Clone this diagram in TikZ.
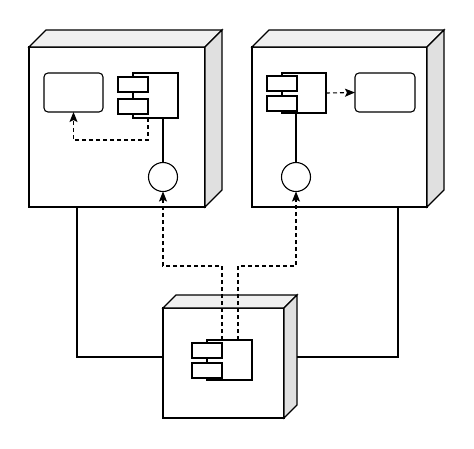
\documentclass[tikz,border=0pt]{standalone}
\usepackage{tikz}
\usetikzlibrary{calc,positioning,arrows.meta}

\tikzset{
  noeud/.style={draw,fill=white,outer sep=0pt,inner sep=0pt},
  comp/.style={noeud,minimum width=#1},
  onglet/.style={noeud,minimum width=30pt,minimum height=15pt},
  stockage/.style={noeud,rounded corners=4pt},
  port/.style={noeud,circle,minimum size=29pt},
  dep/.style={dash pattern=on 4pt off 3pt},
  dessus/.style={fill=black!6},
  cote/.style={fill=black!12}
}

\begin{document}
\begin{tikzpicture}[x=1pt,y=-1pt,line width=1.1pt,>={Stealth[length=10pt,width=8pt,inset=2pt]}]

	\useasboundingbox (0,0) rectangle (474,448);

	%Noeuds
    \node[noeud,minimum width=176pt,minimum height=160pt] (gauche) at (117,127) {};
    \node[noeud,minimum width=175pt,minimum height=160pt] (droite) at (339.5,127) {};
    \node[noeud,minimum width=121pt,minimum height=110pt] (bas) at (223.5,363) {};

    %Faces 3D
    \foreach \n/\d in {gauche/17,droite/17,bas/13} {
      \draw[dessus] (\n.north west) -- ++(\d,-\d) -- ($(\n.north east)+(\d,-\d)$) -- (\n.north east) -- cycle;
      \draw[cote] (\n.north east) -- ++(\d,-\d) -- ($(\n.south east)+(\d,-\d)$) -- (\n.south east) -- cycle;
    }

    %Noeud gauche
    \node[stockage,minimum width=59pt,minimum height=39pt] (gstock) at (73.5,92.5) {};
    \node[comp=45pt,minimum height=45pt] (gcomp) at (155.5,95.5) {};
    \node[onglet] (gcomp1) at (gcomp.west |- 0,84.5) {};
    \node[onglet] (gcomp2) at (gcomp.west |- 0,106.5) {};
    \node[port] (gport) at (163,177) {};

    %Noeud droite
    \node[comp=44pt,minimum height=40pt] (dcomp) at (304,93) {};
    \node[onglet] (dcomp1) at (dcomp.west |- 0,83.5) {};
    \node[onglet] (dcomp2) at (dcomp.west |- 0,103.5) {};
    \node[stockage,minimum width=60pt,minimum height=39pt] (dstock) at (385,92.5) {};
    \node[port] (dport) at (296,177) {};

    %Noeud bas
    \node[comp=45pt,minimum height=40pt] (bcomp) at (229.5,360) {};
    \node[onglet] (bcomp1) at (bcomp.west |- 0,350.5) {};
    \node[onglet] (bcomp2) at (bcomp.west |- 0,370.5) {};

    %Liens
    \draw[dep,->] ($(gcomp.south west)+(15,0)$) -- ++(0,22) -| (gstock.south);
    \draw (gport.north |- gcomp.south) -- (gport.north);
    \draw[dep,->] (dcomp.east) -- (dstock.west);
    \draw (dport.north |- dcomp.south) -- (dport.north);

    \draw[dep,->] ($(bcomp.north west)+(15,0)$) -- ++(0,-74) -| (gport.south);
    \draw[dep,->] ($(bcomp.north west)+(31,0)$) -- ++(0,-74) -| (dport.south);

    \draw ($(gauche.south west)+(48,0)$) |- ($(bas.west)+(0,-6)$);
    \draw ($(droite.south east)+(-29,0)$) |- ($(bas.east)+(13,-6)$);

\end{tikzpicture}
\end{document}
